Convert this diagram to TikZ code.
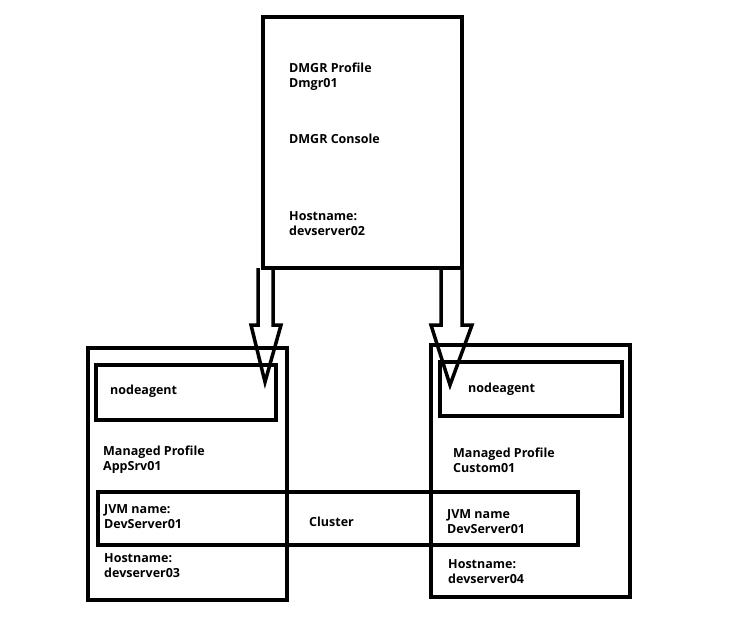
\documentclass[tikz,border=0pt]{standalone}
\usepackage{fontspec}
\setmainfont{Open Sans}
\begin{document}
\begin{tikzpicture}[x=1pt,y=-1pt,
  box/.style={draw,line width=4pt},
  lbl/.style={anchor=west,font=\fontsize{12.5}{15}\selectfont\bfseries,inner sep=0pt,align=left},
  arr/.style={draw,line width=3.5pt,line join=miter}]
\useasboundingbox (0,0) rectangle (738,630);
\draw[box] (263,17) rectangle (462,268);
\draw[box] (88,348) rectangle (287,600);
\draw[box] (96,365) rectangle (276,420);
\draw[box] (431,345) rectangle (630,597);
\draw[box] (440,362) rectangle (622,416);
\draw[box] (98,492) rectangle (578,545);
\draw[arr] (258,268) -- (258,325) -- (251,325) -- (265,382) -- (281,325) -- (273,325) -- (273,268);
\draw[arr] (441,268) -- (441,325) -- (431,325) -- (450,385) -- (472,325) -- (462,325) -- (462,268);
\node[lbl] (t1) at (289,77) {DMGR Profile\\Dmgr01};
\node[lbl] (t2) at (289,139) {DMGR Console};
\node[lbl] (t3) at (289,224) {Hostname:\\devserver02};
\node[lbl] (n1) at (110,391) {nodeagent};
\node[lbl] (n2) at (468,389) {nodeagent};
\node[lbl] (m1) at (103,460) {Managed Profile\\AppSrv01};
\node[lbl] (m2) at (453,460) {Managed Profile\\Custom01};
\node[lbl] (j1) at (104,517) {JVM name:\\DevServer01};
\node[lbl] (j2) at (447,522) {JVM name\\DevServer01};
\node[lbl] (c) at (309,522) {Cluster};
\node[lbl] (h1) at (104,566) {Hostname:\\devserver03};
\node[lbl] (h2) at (448,572) {Hostname:\\devserver04};
\end{tikzpicture}
\end{document}
